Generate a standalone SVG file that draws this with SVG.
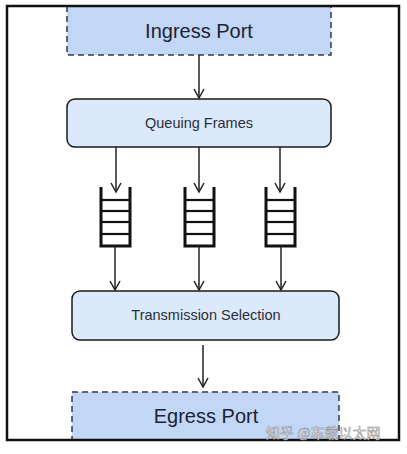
<svg xmlns="http://www.w3.org/2000/svg" width="407" height="454" viewBox="0 0 407 454">
<defs>
<style>
.port{fill:#c2d6f6;stroke:#2f3b4f;stroke-width:1.5;stroke-dasharray:6 4}
.proc{fill:#dce9fb;stroke:#1a1a1a;stroke-width:1.5}
.big{font-family:"Liberation Sans",Arial,sans-serif;font-size:20px;fill:#1c2333;text-anchor:middle}
.small{font-family:"Liberation Sans",Arial,sans-serif;font-size:14.5px;fill:#2a2f3a;text-anchor:middle}
.conn{stroke:#222;stroke-width:1.5;fill:none}
.q{stroke:#111;stroke-width:3;fill:none}
.qbar{stroke:#111;stroke-width:2.2}
.wm{font-family:"Noto Sans CJK SC","Liberation Sans",sans-serif;font-size:14px;fill:#f4f4f4;stroke:#8a8a8a;stroke-width:0.5}
</style>
<marker id="arr" viewBox="0 0 12 12" refX="10" refY="6" markerWidth="12" markerHeight="12" markerUnits="userSpaceOnUse" orient="auto">
<path d="M1,1 L10,6 L1,11" fill="none" stroke="#222" stroke-width="1.5"/>
</marker>
</defs>
<rect x="0" y="0" width="407" height="454" fill="#ffffff"/>
<g id="ingress">
<rect class="port" x="67" y="6" width="264" height="49"/>
<text class="big" x="199" y="38">Ingress Port</text>
</g>
<g id="queuing">
<rect class="proc" x="67" y="99" width="264" height="48" rx="8"/>
<text class="small" x="199" y="128">Queuing Frames</text>
</g>
<g id="queue1">
<path class="q" d="M101,187 V246 H130 V187"/>
<line class="qbar" x1="101" y1="200" x2="130" y2="200"/>
<line class="qbar" x1="101" y1="211" x2="130" y2="211"/>
<line class="qbar" x1="101" y1="222" x2="130" y2="222"/>
<line class="qbar" x1="101" y1="234" x2="130" y2="234"/>
</g>
<g id="queue2">
<path class="q" d="M185,187 V246 H214 V187"/>
<line class="qbar" x1="185" y1="200" x2="214" y2="200"/>
<line class="qbar" x1="185" y1="211" x2="214" y2="211"/>
<line class="qbar" x1="185" y1="222" x2="214" y2="222"/>
<line class="qbar" x1="185" y1="234" x2="214" y2="234"/>
</g>
<g id="queue3">
<path class="q" d="M266,187 V246 H295 V187"/>
<line class="qbar" x1="266" y1="200" x2="295" y2="200"/>
<line class="qbar" x1="266" y1="211" x2="295" y2="211"/>
<line class="qbar" x1="266" y1="222" x2="295" y2="222"/>
<line class="qbar" x1="266" y1="234" x2="295" y2="234"/>
</g>
<g id="transmission">
<rect class="proc" x="72" y="291" width="267" height="49" rx="8"/>
<text class="small" x="206" y="320">Transmission Selection</text>
</g>
<g id="egress">
<rect class="port" x="72" y="392" width="267" height="48"/>
<text class="big" x="206" y="423">Egress Port</text>
</g>
<g id="connectors">
<line class="conn" x1="199" y1="55" x2="199" y2="98" marker-end="url(#arr)"/>
<line class="conn" x1="116" y1="147" x2="116" y2="192" marker-end="url(#arr)"/>
<line class="conn" x1="199" y1="147" x2="199" y2="192" marker-end="url(#arr)"/>
<line class="conn" x1="280" y1="147" x2="280" y2="192" marker-end="url(#arr)"/>
<line class="conn" x1="115" y1="246" x2="115" y2="290" marker-end="url(#arr)"/>
<line class="conn" x1="199" y1="246" x2="199" y2="290" marker-end="url(#arr)"/>
<line class="conn" x1="281" y1="246" x2="281" y2="290" marker-end="url(#arr)"/>
<line class="conn" x1="203" y1="345" x2="203" y2="387" marker-end="url(#arr)"/>
</g>
<rect x="7" y="6" width="392" height="434" fill="none" stroke="#111" stroke-width="2.5"/>
<text class="wm" x="266" y="438">知乎 @车载以太网</text>
</svg>
